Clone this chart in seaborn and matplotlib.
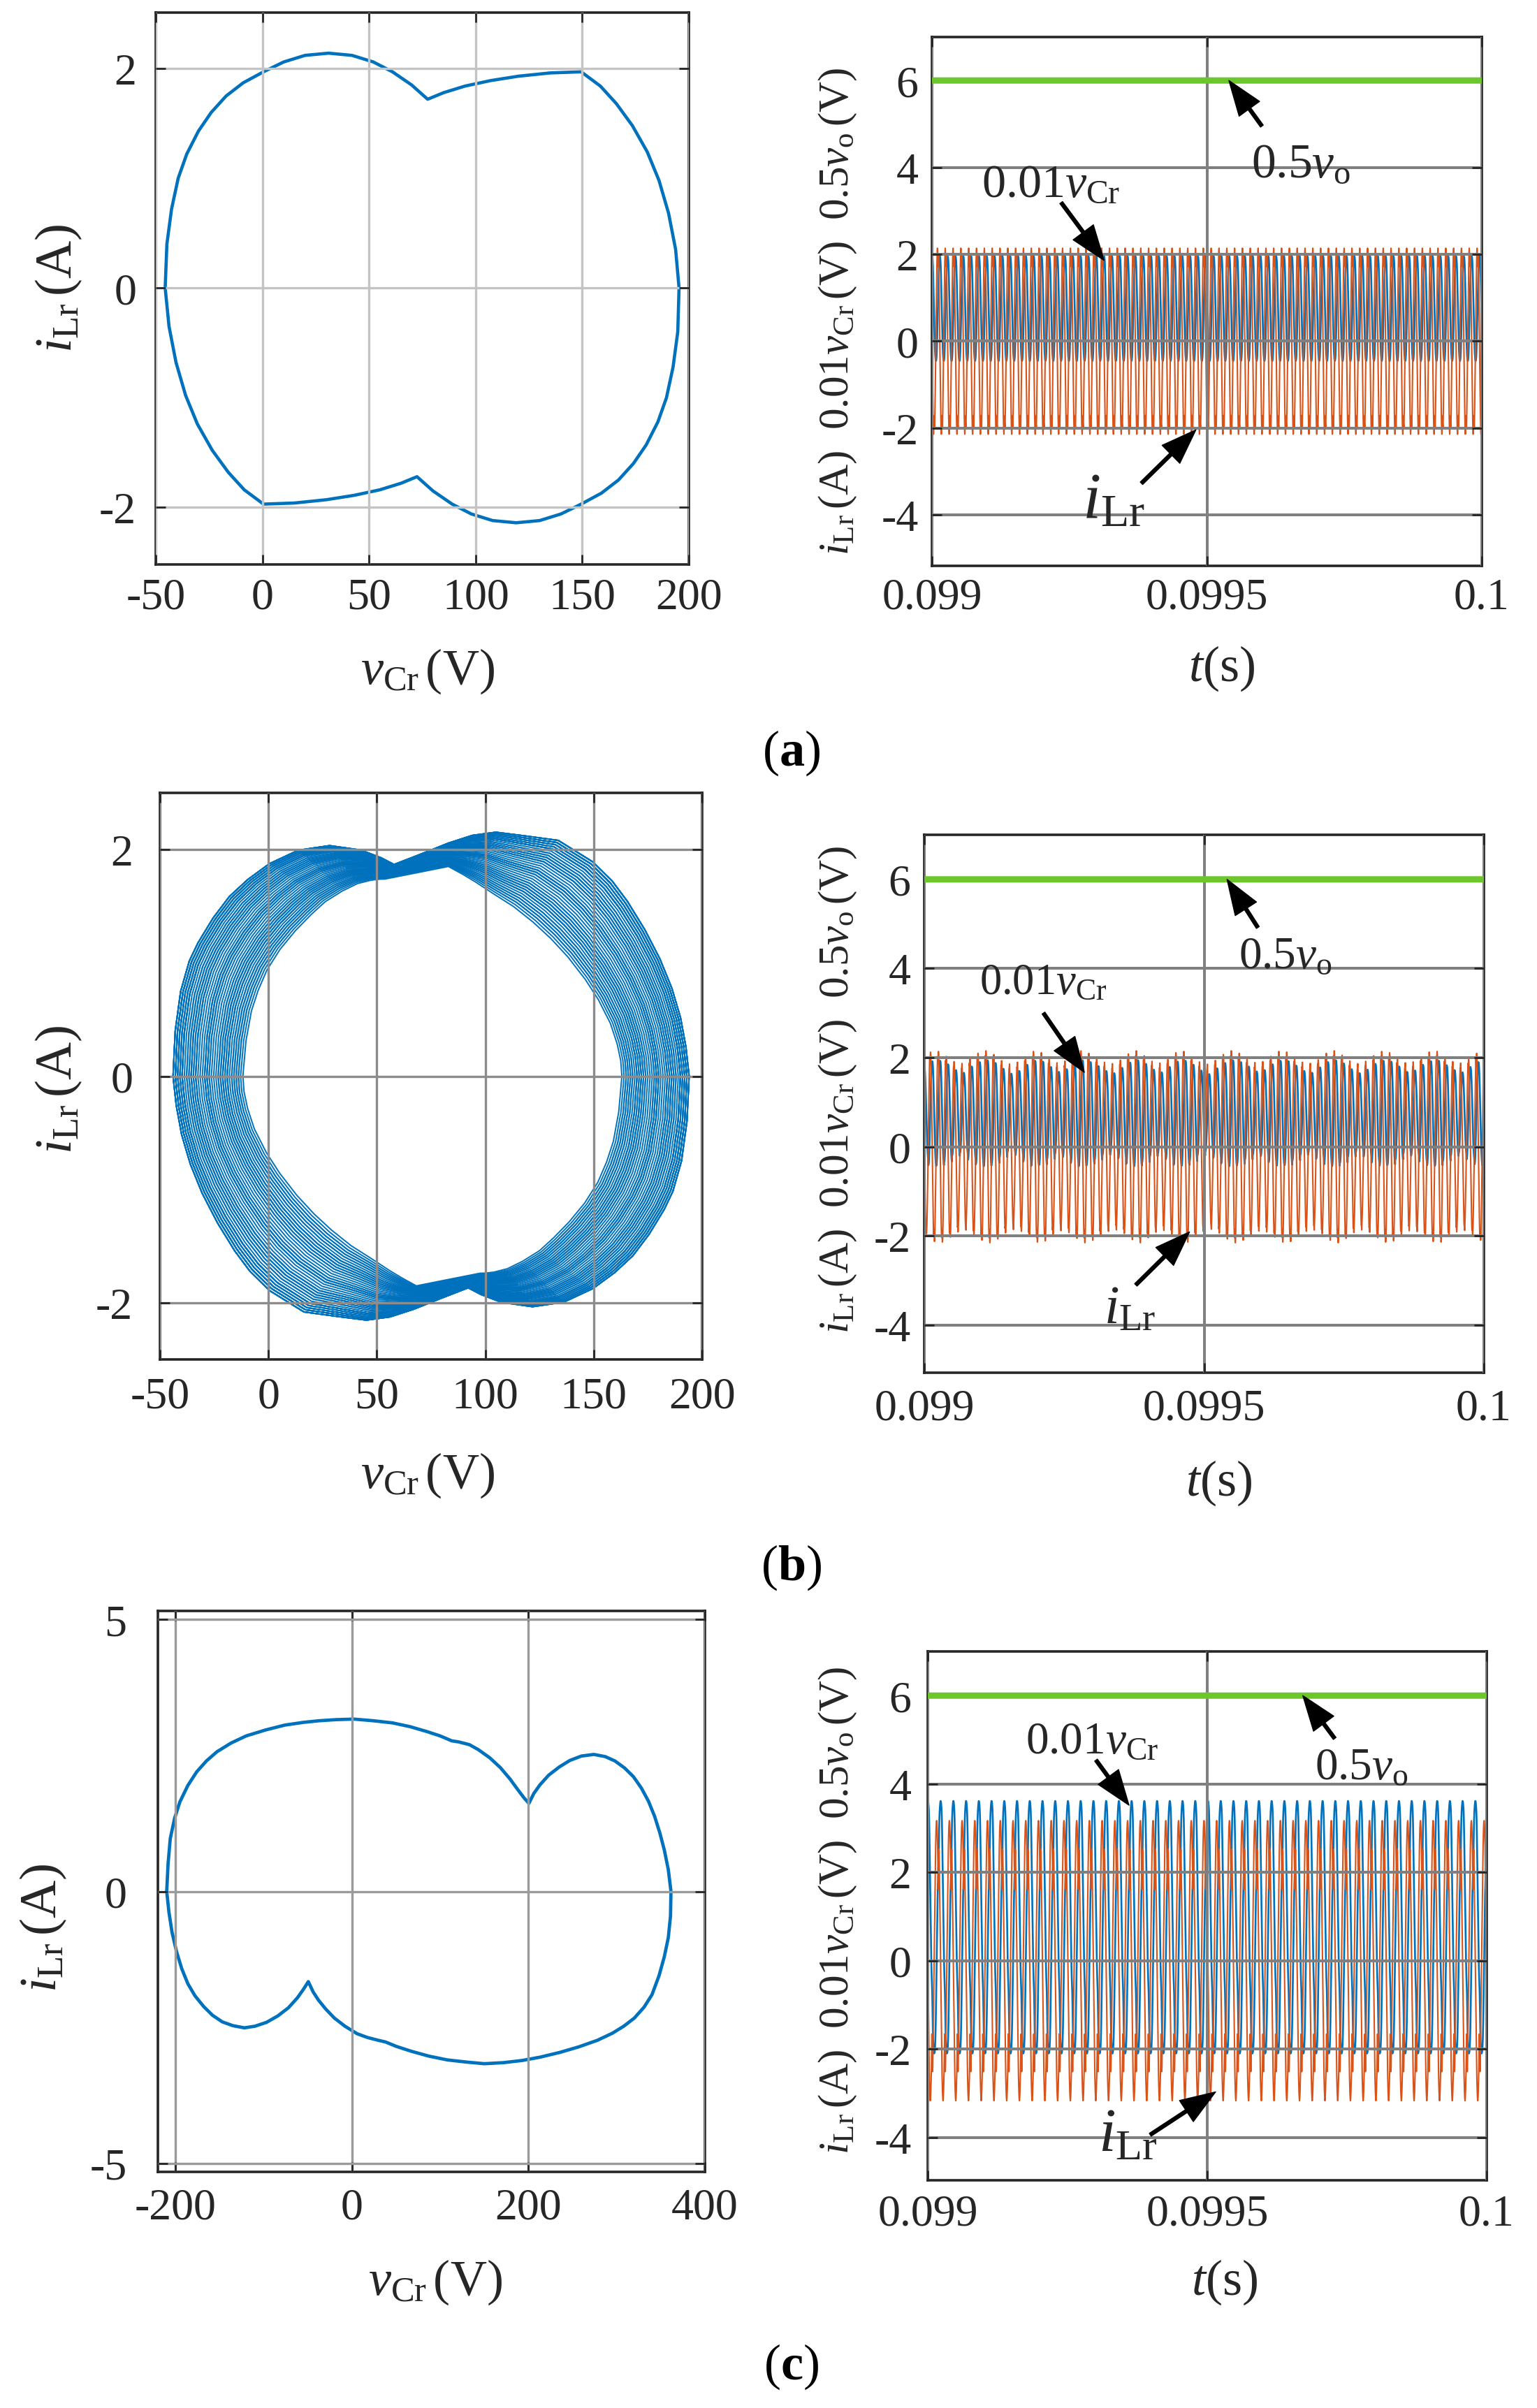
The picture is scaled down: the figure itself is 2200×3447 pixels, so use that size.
#RETRATOS DE FASE Y FORMAS DE ONDA (a), (b), (c)

import numpy as np
import pandas as pd
import matplotlib
matplotlib.use("Agg")
import matplotlib.pyplot as plt
import seaborn as sns

sns.set_style("ticks")
plt.rcParams["font.family"] = ["Liberation Serif", "DejaVu Serif"]
plt.rcParams["mathtext.fontset"] = "custom"
plt.rcParams["mathtext.rm"] = "Liberation Serif"
plt.rcParams["mathtext.it"] = "Liberation Serif:italic"
plt.rcParams["mathtext.bf"] = "Liberation Serif:bold"
plt.rcParams["axes.unicode_minus"] = False

#Colores tipo MATLAB
azul = "#0072BD"
naranja = "#D95319"
verde = "#6DC62B"
negro = "#262626"

W, H = 2200, 3448

#---------------- Datos (a): un solo lazo ----------------
vcr_a = [-45.6, -44.8, -42.6, -39.5, -35.5, -30.0, -24.0, -17.0, -9.0, 0.5,
         10.0, 20.0, 31.0, 42.0, 52.0, 61.0, 70.0, 77.5, 85.0, 95.0,
         107.0, 120.0, 135.0, 149.5, 158.5, 166.0, 173.5, 180.5, 186.0, 190.5,
         193.8, 195.4, 194.8, 192.6, 189.5, 185.5, 180.0, 174.0, 167.0, 159.0,
         149.5, 140.0, 130.0, 119.0, 108.0, 98.0, 89.0, 80.0, 72.5, 65.0,
         55.0, 43.0, 30.0, 15.0, 0.5, -8.5, -16.0, -23.5, -30.5, -36.0,
         -40.5, -43.8]
ilr_a = [0.00, 0.40, 0.72, 1.00, 1.22, 1.43, 1.60, 1.75, 1.87, 1.97,
         2.06, 2.12, 2.14, 2.12, 2.06, 1.97, 1.85, 1.72, 1.78, 1.84,
         1.89, 1.93, 1.96, 1.97, 1.84, 1.68, 1.48, 1.24, 0.98, 0.68,
         0.35, 0.00, -0.40, -0.72, -1.00, -1.22, -1.43, -1.60, -1.75, -1.87,
         -1.97, -2.06, -2.12, -2.14, -2.12, -2.06, -1.97, -1.85, -1.72, -1.78,
         -1.84, -1.89, -1.93, -1.96, -1.97, -1.84, -1.68, -1.48, -1.24, -0.98,
         -0.68, -0.35]
f_a = 70.3e3      #ciclos por segundo
ciclos_a = 72
vo_a = 12.0

#---------------- Datos (b): lazo exterior e interior ----------------
vcr_b_ext = [-44.5, -43.5, -41.0, -37.0, -33.0, -26.0, -18.5, -10.0, 0.0, 13.5,
             28.0, 42.5, 52.0, 58.0, 70.0, 83.0, 94.0, 105.0, 118.0, 134.0,
             150.0, 159.0, 166.0, 174.0, 181.0, 186.5, 190.5, 193.0, 194.5,
             193.5, 191.0, 187.0, 183.0, 176.0, 168.5, 160.0, 150.0, 136.5, 122.0,
             107.5, 98.0, 92.0, 80.0, 67.0, 56.0, 45.0, 32.0, 16.0, 0.0,
             -9.0, -16.0, -24.0, -31.0, -36.5, -40.5, -43.0]
ilr_b_ext = [0.00, 0.40, 0.75, 1.02, 1.18, 1.40, 1.59, 1.74, 1.88, 2.00,
             2.04, 2.00, 1.93, 1.87, 1.96, 2.06, 2.13, 2.16, 2.13, 2.09,
             1.90, 1.73, 1.55, 1.30, 1.04, 0.78, 0.52, 0.26, 0.00,
             -0.40, -0.75, -1.02, -1.18, -1.40, -1.59, -1.74, -1.88, -2.00, -2.04,
             -2.00, -1.93, -1.87, -1.96, -2.06, -2.13, -2.16, -2.13, -2.09, -1.90,
             -1.73, -1.55, -1.30, -1.04, -0.78, -0.52, -0.26]
vcr_b_int = [-7.0, -5.5, -3.0, 0.0, 4.0, 10.0, 17.0, 24.0, 30.0, 37.0,
             43.0, 48.0, 51.0, 53.0, 68.0, 83.0, 89.0, 94.0, 102.0, 110.0,
             118.0, 126.0, 134.0, 142.0, 148.0, 153.5, 156.5, 158.0, 158.4,
             156.9, 154.4, 151.4, 147.4, 141.4, 134.4, 127.4, 121.4, 114.4, 108.4,
             103.4, 100.4, 98.4, 83.4, 68.4, 62.4, 57.4, 49.4, 41.4, 33.4,
             25.4, 17.4, 9.4, 3.4, -2.1, -5.1, -6.6]
ilr_b_int = [0.00, 0.30, 0.55, 0.72, 0.90, 1.08, 1.24, 1.38, 1.49, 1.58,
             1.65, 1.69, 1.71, 1.72, 1.77, 1.82, 1.73, 1.65, 1.53, 1.41,
             1.28, 1.14, 0.98, 0.79, 0.62, 0.42, 0.25, 0.12, 0.00,
             -0.30, -0.55, -0.72, -0.90, -1.08, -1.24, -1.38, -1.49, -1.58, -1.65,
             -1.69, -1.71, -1.72, -1.77, -1.82, -1.73, -1.65, -1.53, -1.41, -1.28,
             -1.14, -0.98, -0.79, -0.62, -0.42, -0.25, -0.12]
#pico de 0.01 vCr en cada ciclo (estimado de la forma de onda)
pico_b = [1.78, 1.92, 1.93, 1.85, 1.72, 1.66, 1.80, 1.90, 1.94, 1.88,
          1.75, 1.64, 1.70, 1.84, 1.93, 1.91, 1.79, 1.68, 1.74, 1.87,
          1.94, 1.90, 1.81, 1.70, 1.65, 1.77, 1.89, 1.94, 1.86, 1.73,
          1.67, 1.79, 1.91, 1.93, 1.84, 1.71, 1.63, 1.76, 1.88, 1.94,
          1.90, 1.80, 1.69, 1.72, 1.85, 1.93, 1.92, 1.82, 1.70, 1.66,
          1.78, 1.90, 1.94, 1.87, 1.74, 1.65, 1.73, 1.86, 1.93, 1.91,
          1.80, 1.68, 1.71, 1.84, 1.92, 1.93, 1.83, 1.72, 1.67, 1.79,
          1.90, 1.92, 1.86]
f_b = 70.7e3
vo_b = 12.0

#---------------- Datos (c): un solo lazo ----------------
vcr_c = [-210.0, -208.5, -206.0, -201.0, -195.0, -186.0, -176.0, -165.0, -153.0, -137.0,
         -120.0, -98.0, -76.0, -55.0, -37.0, -18.0, 2.0, 24.0, 46.0, 66.0,
         85.0, 100.0, 113.0, 121.0, 133.0, 143.0, 156.0, 168.0, 179.0, 188.0,
         195.0, 200.5, 206.0, 213.0, 223.0, 235.0, 247.0, 260.0, 274.0, 287.0,
         298.0, 309.0, 319.0, 328.0, 336.0, 343.0, 349.0, 354.0, 358.5, 361.5,
         361.0, 358.5, 354.0, 348.0, 340.0, 331.0, 320.0, 308.0, 295.0, 278.0,
         257.0, 236.0, 213.0, 193.0, 172.0, 150.0, 130.0, 108.0, 87.0, 67.0,
         50.0, 38.0, 30.0, 18.0, 6.0, -8.0, -20.0, -30.0, -38.0, -44.0,
         -49.5, -55.0, -62.0, -72.0, -84.0, -97.0, -110.0, -122.0, -135.0, -147.0,
         -158.0, -168.0, -178.0, -186.0, -193.0, -199.0, -204.0, -207.5]
ilr_c = [0.00, 0.50, 0.97, 1.35, 1.65, 1.95, 2.20, 2.40, 2.57, 2.73,
         2.86, 2.97, 3.06, 3.11, 3.14, 3.16, 3.17, 3.14, 3.10, 3.03,
         2.94, 2.86, 2.77, 2.75, 2.70, 2.61, 2.46, 2.28, 2.07, 1.87,
         1.72, 1.62, 1.80, 1.96, 2.14, 2.29, 2.41, 2.49, 2.52, 2.48,
         2.40, 2.27, 2.11, 1.90, 1.66, 1.38, 1.07, 0.76, 0.40, 0.00,
         -0.45, -0.85, -1.20, -1.55, -1.90, -2.13, -2.33, -2.48, -2.61, -2.74,
         -2.86, -2.96, -3.05, -3.11, -3.15, -3.17, -3.14, -3.10, -3.03, -2.94,
         -2.85, -2.77, -2.74, -2.69, -2.62, -2.48, -2.33, -2.16, -2.00, -1.85,
         -1.66, -1.80, -1.96, -2.14, -2.29, -2.41, -2.48, -2.51, -2.47, -2.40,
         -2.28, -2.12, -1.92, -1.70, -1.42, -1.10, -0.75, -0.38]
f_c = 43.9e3
ciclos_c = 46
vo_c = 12.0

#Ventana de tiempo y ticks
t_ini, t_fin = 0.099, 0.1
t_ticks = [0.099, 0.0995, 0.1]
t_labels = ["0.099", "0.0995", "0.1"]
y_ticks_t = [-4, -2, 0, 2, 4, 6]


#Fase de cada punto dentro del ciclo (longitud de arco normalizada)
def fase(v, i, va, ia):
    x = np.append(v, v[0]) / va
    y = np.append(i, i[0]) / ia
    s = np.concatenate([[0], np.cumsum(np.hypot(np.diff(x), np.diff(y)))])
    return s[:-1] / s[-1]


#Serie temporal a partir de los lazos recorridos uno tras otro
def serie(lazos, f, va, ia):
    T = 1.0 / f
    t0 = t_ini - 0.5 * T
    partes = []
    for k, (v, i) in enumerate(lazos):
        ph = fase(v, i, va, ia)
        partes.append(pd.DataFrame({"t": t0 + (k + ph) * T, "vcr": v, "ilr": i}))
    return pd.concat(partes, ignore_index=True)


lazo_a = (np.array(vcr_a), np.array(ilr_a))
lazo_c = (np.array(vcr_c), np.array(ilr_c))
peso_b = np.clip((np.array(pico_b) - 1.584) / (1.945 - 1.584), 0, 1)
lazos_b = []
for w in peso_b:
    v = np.array(vcr_b_int) + w * (np.array(vcr_b_ext) - np.array(vcr_b_int))
    i = np.array(ilr_b_int) + w * (np.array(ilr_b_ext) - np.array(ilr_b_int))
    lazos_b.append((v, i))

serie_a = serie([lazo_a] * ciclos_a, f_a, 125, 2.1)
serie_b = serie(lazos_b, f_b, 120, 2.0)
serie_c = serie([lazo_c] * ciclos_c, f_c, 286, 3.2)

#Figura
fig = plt.figure(figsize=(W / 100, H / 100), dpi=100)


def a_ejes(ax, px, py):
    l, b, w, h = ax.get_position().bounds
    return ((px / W - l) / w, ((1 - py / H) - b) / h)


def estilo(ax, color_grid, lw_grid, pad_x, pad_y):
    ax.grid(True, color=color_grid, lw=lw_grid)
    ax.set_axisbelow(False)
    for s in ax.spines.values():
        s.set_visible(True)
        s.set_linewidth(2.6)
        s.set_color(negro)
    ax.tick_params(direction="in", length=10, width=2, top=True, right=True,
                   labelsize=46, colors=negro)
    ax.tick_params(axis="x", pad=pad_x)
    ax.tick_params(axis="y", pad=pad_y)


def etiquetas(ax, xl, yl, pos_x, pos_y, fs_x, fs_y):
    ax.set_xlabel(xl, fontsize=fs_x, color=negro)
    ax.set_ylabel(yl, fontsize=fs_y, color=negro)
    ax.xaxis.set_label_coords(*a_ejes(ax, *pos_x))
    ax.yaxis.set_label_coords(*a_ejes(ax, *pos_y))
    ax.xaxis.label.set_va("center")
    ax.yaxis.label.set_va("center")


lbl_v = r"$v_{\mathrm{Cr}}\,(\mathrm{V})$"
lbl_i = r"$i_{\mathrm{Lr}}\,(\mathrm{A})$"
lbl_t = r"$t(\mathrm{s})$"
lbl_y = (r"$i_{\mathrm{Lr}}\,(\mathrm{A})\ \ 0.01v_{\mathrm{Cr}}\,(\mathrm{V})"
         r"\ \ 0.5v_{\mathrm{o}}\,(\mathrm{V})$")
flecha = dict(facecolor="k", edgecolor="k", width=3.5, headwidth=26,
              headlength=36, shrink=0)


#Grafico del retrato de fase
def retrato(pos, lazos, lw, xlim, ylim, xt, yt, color_grid, lw_grid, pads, pos_lbl):
    ax = fig.add_axes(pos)
    filas = []
    for k, (v, i) in enumerate(lazos):
        filas.append(pd.DataFrame({"v": np.append(v, v[0]), "i": np.append(i, i[0]), "ciclo": k}))
    df = pd.concat(filas, ignore_index=True)
    sns.lineplot(data=df, x="v", y="i", units="ciclo", estimator=None, sort=False,
                 color=azul, lw=lw, ax=ax)
    ax.set_xlim(*xlim)
    ax.set_ylim(*ylim)
    ax.set_xticks(xt, labels=[str(x) for x in xt])
    ax.set_yticks(yt, labels=[str(y) for y in yt])
    estilo(ax, color_grid, lw_grid, *pads)
    etiquetas(ax, lbl_v, lbl_i, pos_lbl[0], pos_lbl[1], 52, 54)
    return ax


#Grafico de las formas de onda
def ondas(pos, df, vo, ylim, pads, pos_lbl, notas, fs_vo, fs_vc, fs_i):
    ax = fig.add_axes(pos)
    sns.lineplot(x=df["t"], y=0.01 * df["vcr"], estimator=None, sort=False,
                 color=azul, lw=1.9, ax=ax)
    sns.lineplot(x=df["t"], y=df["ilr"], estimator=None, sort=False,
                 color=naranja, lw=1.5, ax=ax)
    ax.plot(df["t"], np.full(len(df), 0.5 * vo), color=verde, lw=6.5, zorder=3)
    ax.set_xlim(t_ini, t_fin)
    ax.set_ylim(*ylim)
    ax.set_xticks(t_ticks, labels=t_labels)
    ax.set_yticks(y_ticks_t, labels=[str(y) for y in y_ticks_t])
    estilo(ax, "#808080", 2.9, *pads)
    etiquetas(ax, lbl_t, lbl_y, pos_lbl[0], pos_lbl[1], 52, 44)
    (vo_tip, vo_tail, vo_txt), (vc_tip, vc_tail, vc_txt), (il_tip, il_tail, il_txt) = notas
    ax.annotate("", xy=vo_tip, xytext=vo_tail, arrowprops=flecha, zorder=5)
    ax.annotate("", xy=vc_tip, xytext=vc_tail, arrowprops=flecha, zorder=5)
    ax.annotate("", xy=il_tip, xytext=il_tail, arrowprops=flecha, zorder=5)
    ax.text(*vo_txt, r"$0.5v_{\mathrm{o}}$", fontsize=fs_vo, ha="left", va="baseline", zorder=5)
    ax.text(*vc_txt, r"$0.01v_{\mathrm{Cr}}$", fontsize=fs_vc, ha="left", va="baseline", zorder=5)
    ax.text(*il_txt, r"$i_{\mathrm{Lr}}$", fontsize=fs_i, ha="center", va="baseline", zorder=5)
    return ax


#(a)
retrato([223 / W, 1 - 809 / H, 763 / W, 790 / H], [lazo_a], 3.3,
        (-50, 200), (-2.52, 2.51), [-50, 0, 50, 100, 150, 200], [-2, 0, 2],
        "#c4c4c4", 2.4, (13, 20), ((612, 961), (84, 413)))
ondas([1334 / W, 1 - 811 / H, 787 / W, 757 / H], serie_a, vo_a, (-5.17, 7), (12, 14),
      ((1749, 957), (1199, 446)),
      [((0.09954, 6.0), (0.09960, 4.95), (0.099581, 3.8)),
       ((0.099313, 1.86), (0.099235, 3.19), (0.09909, 3.34)),
       ((0.09948, -2.04), (0.099381, -3.27), (0.09933, -4.04))], 50, 49, 68)

#(b)
retrato([229 / W, 1 - 1947 / H, 776 / W, 811 / H], lazos_b, 1.4,
        (-50, 200), (-2.5, 2.5), [-50, 0, 50, 100, 150, 200], [-2, 0, 2],
        "#8c8c8c", 2.4, (18, 28), ((612, 2112), (84, 1560)))
ondas([1323 / W, 1 - 1966 / H, 801 / W, 770 / H], serie_b, vo_b, (-5.07, 7), (16, 14),
      ((1745, 2123), (1199, 1560)),
      [((0.099541, 6.0), (0.099596, 4.92), (0.099562, 4.02)),
       ((0.099286, 1.67), (0.099213, 3.0), (0.099099, 3.43)),
       ((0.099474, -1.91), (0.099378, -3.10), (0.099367, -3.94))], 47, 45, 56)

#(c)
retrato([226 / W, 1 - 3110 / H, 783 / W, 803 / H], [lazo_c], 3.4,
        (-220, 400), (-5.16, 5.16), [-200, 0, 200, 400], [-5, 0, 5],
        "#9a9a9a", 2.4, (16, 32), ((623, 3267), (62, 2760)))
ondas([1328 / W, 1 - 3122 / H, 800 / W, 757 / H], serie_c, vo_c, (-4.97, 7), (14, 17),
      ((1753, 3267), (1199, 2735)),
      [((0.099671, 6.0), (0.099728, 5.03), (0.099693, 4.12)),
       ((0.09936, 3.52), (0.099301, 4.54), (0.099175, 4.70)),
       ((0.099515, -2.97), (0.099398, -3.94), (0.099358, -4.30))], 47, 47, 64)

#Rotulos de cada caso
for letra, y in [("a", 1078), ("b", 2244), ("c", 3388)]:
    fig.text(1133 / W, 1 - y / H, r"$(\mathbf{" + letra + r"})$", fontsize=52,
             ha="center", va="center", color="k")

fig.savefig("out.png", dpi=100)
